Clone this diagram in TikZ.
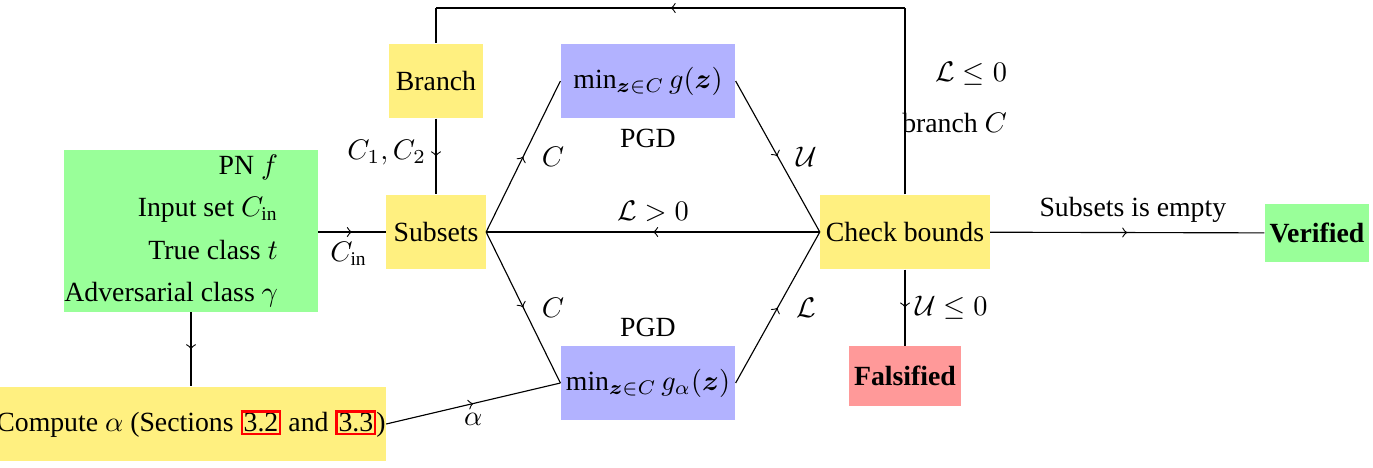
\documentclass[tikz,border=0pt]{standalone}
\usepackage{fontspec}
\setmainfont{Liberation Serif}
\usepackage{amsmath,amssymb}
\usetikzlibrary{decorations.markings}
\definecolor{bgreen}{RGB}{153,255,153}
\definecolor{byellow}{RGB}{255,240,128}
\definecolor{bblue}{RGB}{178,178,255}
\definecolor{bred}{RGB}{255,153,153}
\newcommand\refbox[1]{{\setlength\fboxsep{0.3pt}\setlength\fboxrule{0.8pt}\fcolorbox{red}{byellow}{#1}}}
\begin{document}
\begin{tikzpicture}[x=0.0124cm,y=-0.0124cm,
  box/.style={inner sep=0pt,minimum height=0.92cm,font=\fontsize{9.8}{12}\selectfont},
  mid/.style={postaction={decorate},decoration={markings,mark=at position 0.5 with {\arrow{>[scale=1.6]}}}},
  lab/.style={font=\fontsize{9.8}{12}\selectfont}]
\useasboundingbox (0,0) rectangle (1373,467);
\node[box,fill=bgreen,minimum width=2.99cm,minimum height=1.95cm,align=right] (inp) at (191,231)
  {\begin{tabular}{@{}r@{}}PN $f$\\[3pt] Input set $C_{\text{in}}$\\[3pt] True class $t$\\[3pt] Adversarial class $\gamma$\end{tabular}\hspace{14pt}};
\node[box,fill=byellow,minimum width=4.66cm] (comp) at (191,424) {Compute $\alpha$ (Sections \refbox{3.2} and \refbox{3.3})};
\node[box,fill=byellow,minimum width=1.23cm] (sub) at (436,232) {Subsets};
\node[box,fill=byellow,minimum width=1.17cm] (br) at (436,81) {Branch};
\node[box,fill=bblue,minimum width=2.16cm] (top) at (648,81) {$\min_{\boldsymbol{z}\in C} g(\boldsymbol{z})$};
\node[box,fill=bblue,minimum width=2.16cm] (bot) at (648,383) {$\min_{\boldsymbol{z}\in C} g_\alpha(\boldsymbol{z})$};
\node[box,fill=byellow,minimum width=2.10cm] (chk) at (905,232) {Check bounds};
\node[box,fill=bred,minimum width=1.38cm,minimum height=0.74cm] (fal) at (905,376) {\textbf{Falsified}};
\node[box,fill=bgreen,minimum width=1.29cm,minimum height=0.71cm] (ver) at (1317,233) {\textbf{Verified}};
\node[lab] (pgd1) at (648,138) {PGD};
\node[lab] (pgd2) at (648,327) {PGD};
\coordinate (tr) at (905,8);
\coordinate (tl) at (436,8);
\draw (chk.north) -- (tr);
\draw[mid] (tr) -- (tl);
\draw (tl) -- (br.north);
\draw[mid] (br) -- node[lab,left,pos=0.45] {$C_1,C_2$} (sub);
\draw[mid] (inp.east |- sub) -- node[lab,below,pos=0.45] {$C_{\text{in}}$} (sub);
\draw[mid] (inp) -- (comp);
\draw[mid] (sub.east) -- node[lab,right,pos=0.5,xshift=3pt] {$C$} (top.west);
\draw[mid] (sub.east) -- node[lab,right,pos=0.5,xshift=3pt] {$C$} (bot.west);
\draw[mid] (top.east) -- node[lab,right,pos=0.5,xshift=3pt] {$\mathcal{U}$} (chk.west);
\draw[mid] (bot.east) -- node[lab,right,pos=0.5,xshift=3pt] {$\mathcal{L}$} (chk.west);
\draw[mid] (chk.west) -- node[lab,above] {$\mathcal{L}>0$} (sub.east);
\draw[mid] (comp.east) -- node[lab,below,pos=0.5] {$\alpha$} (bot.west);
\draw[mid] (chk) -- node[lab,right,pos=0.5] {$\mathcal{U}\le 0$} (fal);
\draw[mid] (chk) -- node[lab,above,pos=0.52] {Subsets is empty} (ver);
\node[lab,align=right,anchor=east] (lbl) at (1017,97) {$\mathcal{L}\le 0$\\[6pt] branch $C$};
\end{tikzpicture}
\end{document}
